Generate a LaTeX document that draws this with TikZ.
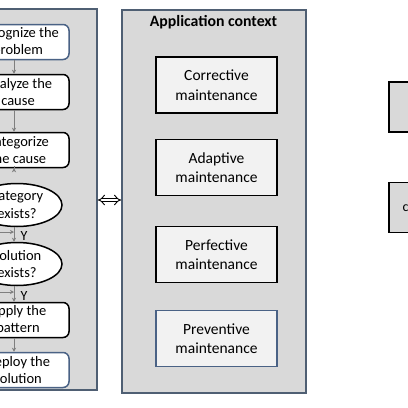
\documentclass[tikz,border=0pt]{standalone}
\usepackage{fontspec}
\setmainfont{Carlito}
\usetikzlibrary{arrows.meta,shapes.geometric}
\definecolor{panelfill}{HTML}{D9D9D9}
\definecolor{panelborder}{HTML}{4F5F73}
\definecolor{boxfill}{HTML}{F2F2F2}
\definecolor{bluebord}{HTML}{4A6285}
\definecolor{arrowgray}{HTML}{7F7F7F}
\tikzset{
  panel/.style={draw=panelborder, fill=panelfill, line width=1.6pt, inner sep=0pt},
  mbox/.style={draw=black, fill=boxfill, line width=1.6pt, minimum width=121pt, minimum height=56pt,
    align=center, font=\fontsize{15.5}{19.5}\selectfont, inner sep=0pt},
  lbox/.style={draw=black, fill=white, line width=1.5pt, rounded corners=6pt, minimum width=102pt,
    minimum height=35pt, align=center, font=\fontsize{14.5}{17.5}\selectfont, inner sep=0pt},
  lell/.style={ellipse, draw=black, fill=white, line width=1.5pt, minimum width=90pt,
    minimum height=43pt, align=center, font=\fontsize{14.5}{17.5}\selectfont, inner sep=0pt},
  rbox/.style={draw=black, fill=panelfill, line width=1.6pt, minimum width=80pt, minimum height=50pt, inner sep=0pt},
  flow/.style={draw=arrowgray, line width=0.8pt, -{Stealth[length=4pt,width=4pt]}},
  ylab/.style={font=\fontsize{14}{17}\selectfont, inner sep=0pt}
}
\begin{document}
\begin{tikzpicture}[x=1pt,y=-1pt]
\useasboundingbox (0,0) rectangle (408,408);
\clip (0,0) rectangle (408,408);
% panels
\node[panel, minimum width=157pt, minimum height=381pt] (lp) at (18.5,199.5) {};
\node[panel, minimum width=184pt, minimum height=383pt] (mp) at (214,201.5) {};
\node[font=\bfseries\fontsize{15.8}{19}\selectfont, inner sep=0pt] (title) at (213.5,22) {Application context};
% middle boxes
\node[mbox] (cor) at (216.5,85) {Corrective\\maintenance};
\node[mbox] (ada) at (216.5,167.5) {Adaptive\\maintenance};
\node[mbox] (per) at (216.5,254.5) {Perfective\\maintenance};
\node[mbox, draw=bluebord] (pre) at (216.5,338.5) {Preventive\\maintenance};
% left flow
\node[lbox, draw=bluebord] (rec) at (18,42) {Recognize the\\problem};
\node[lbox] (ana) at (18,92) {Analyze the\\cause};
\node[lbox] (cat) at (18,150) {Categorize\\the cause};
\node[lell] (cex) at (17,205) {Category\\exists?};
\node[lell] (sex) at (17,264) {Solution\\exists?};
\node[lbox] (app) at (18,320) {Apply the\\pattern};
\node[lbox, draw=bluebord] (dep) at (18,370) {Deploy the\\solution};
\draw[flow] ([xshift=-4pt]rec.south) -- ([xshift=-4pt]ana.north);
\draw[flow] ([xshift=-4pt]ana.south) -- ([xshift=-4pt]cat.north);
\draw[flow] ([xshift=-4pt]cat.south) -- (cat.south -| 14,0 |- cex.north);
\draw[flow] (cex.south -| 14,0) -- (sex.north -| 14,0);
\draw[flow] (sex.south -| 14,0) -- ([xshift=-4pt]app.north);
\draw[flow] ([xshift=-4pt]app.south) -- ([xshift=-4pt]dep.north);
\node[ylab] (y1) at (24,236) {Y};
\node[ylab] (y2) at (24,296) {Y};
\coordinate (n1) at (-10,232);
\coordinate (n2) at (-10,292);
\draw[flow] (n1) -- (14,232);
\draw[flow] (n2) -- (14,292);
% double arrow
\draw[line width=0.9pt, double, double distance=2.8pt, {Implies}-{Implies}] (lp.east |- 0,200) -- (mp.west |- 0,200);
% right boxes
\node[rbox] (r1) at (429,107) {};
\node[rbox] (r2) at (429,207.5) {};
\node[anchor=west, inner sep=0pt, font=\fontsize{14}{17}\selectfont] (r2t) at (402.5,208) {c};
\end{tikzpicture}
\end{document}
